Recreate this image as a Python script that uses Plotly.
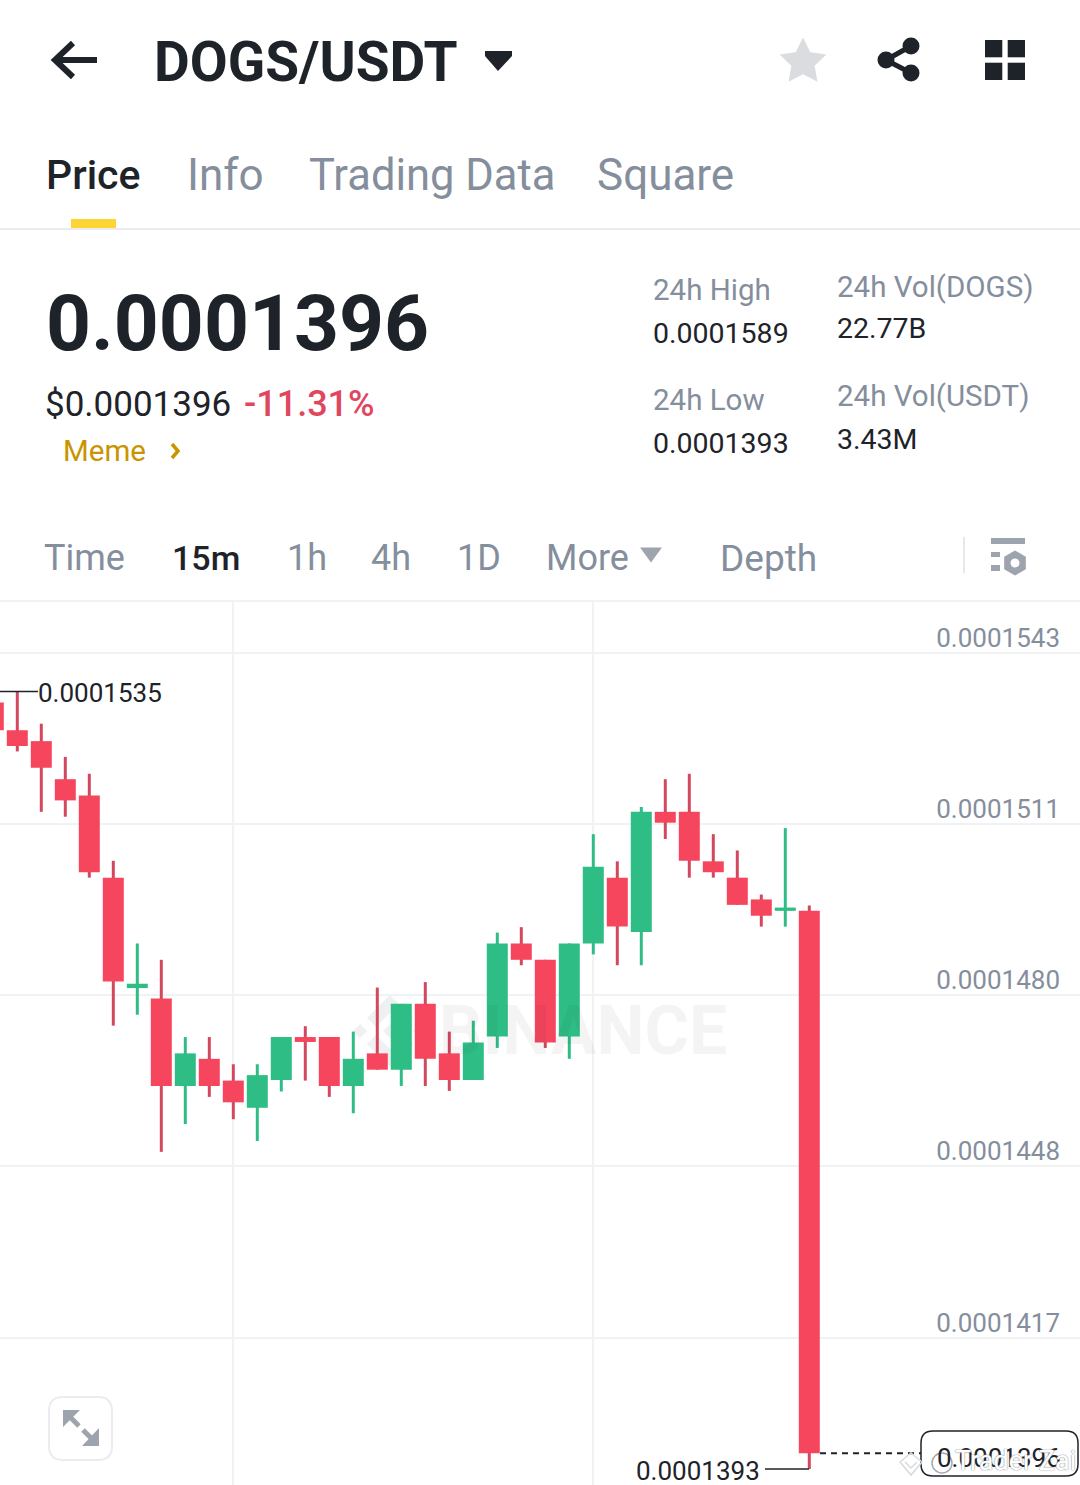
import math

import plotly.graph_objects as go

W, H = 1080, 1485
CHART_TOP = 602

# Prices in units of 0.0000001.
index = list(range(-1, 34))
opens = [1533.9, 1528.8, 1526.8, 1519.8, 1516.8, 1501.7, 1481.4, 1479.5, 1463.4, 1468.4,
         1464.4, 1459.4, 1464.5, 1472.4, 1472.4, 1463.4, 1469.4, 1466.4, 1478.5, 1469.4,
         1464.5, 1472.5, 1489.6, 1486.6, 1472.5, 1489.6, 1501.7, 1491.7, 1513.8, 1513.8,
         1504.7, 1501.7, 1497.7, 1495.6, 1495.6]
closes = [1528.8, 1525.9, 1521.9, 1515.9, 1502.7, 1482.6, 1482.2, 1463.4, 1469.4, 1463.4,
          1460.4, 1465.4, 1472.4, 1471.5, 1463.4, 1468.4, 1466.4, 1478.5, 1468.4, 1464.5,
          1471.4, 1489.6, 1486.6, 1471.4, 1489.6, 1503.7, 1492.7, 1513.8, 1511.8, 1504.8,
          1502.7, 1496.7, 1494.7, 1496.2, 1395.9]
highs = [1535.3, 1535.9, 1530.0, 1523.9, 1520.8, 1504.8, 1489.6, 1486.6, 1472.4, 1472.4,
         1467.4, 1467.4, 1472.4, 1474.4, 1472.4, 1473.4, 1481.5, 1478.5, 1482.5, 1473.4,
         1475.4, 1491.6, 1492.6, 1486.6, 1489.6, 1509.7, 1504.7, 1514.7, 1519.8, 1520.8,
         1509.7, 1506.7, 1498.6, 1510.8, 1496.6]
lows = [1527.9, 1524.9, 1513.8, 1512.9, 1501.7, 1474.5, 1476.5, 1451.3, 1456.4, 1461.4,
        1457.3, 1453.3, 1462.4, 1464.4, 1461.4, 1458.4, 1466.4, 1463.4, 1463.4, 1462.5,
        1464.5, 1470.4, 1485.6, 1470.4, 1468.4, 1487.6, 1485.6, 1485.6, 1508.8, 1501.7,
        1501.7, 1496.7, 1492.7, 1492.7, 1393.0]

tick_prices = [1543.0, 1511.6, 1480.1, 1448.7, 1417.1]
tick_labels = ["0.0001543", "0.0001511", "0.0001480", "0.0001448", "0.0001417"]
grid_candles = [9, 24]

GREEN, RED = "#2ebd85", "#f6465d"
RED_WICK = "#d3485f"
DARK, GREY, ICON = "#1e2329", "#848e9c", "#9ea4ad"
GRID = "#f1f2f3"
FONT = "Roboto"


def px(x):
    return x / W


def py(y):
    return 1 - y / H


def poly(points, close=True):
    d = "M " + " L ".join(f"{px(x):.5f} {py(y):.5f}" for x, y in points)
    return d + (" Z" if close else "")


def rrect(x0, y0, x1, y1, r):
    c = lambda x, y: f"{px(x):.5f} {py(y):.5f}"
    return (f"M {c(x0 + r, y0)} L {c(x1 - r, y0)} Q {c(x1, y0)} {c(x1, y0 + r)} "
            f"L {c(x1, y1 - r)} Q {c(x1, y1)} {c(x1 - r, y1)} L {c(x0 + r, y1)} "
            f"Q {c(x0, y1)} {c(x0, y1 - r)} L {c(x0, y0 + r)} Q {c(x0, y0)} {c(x0 + r, y0)} Z")


up = [c >= o for o, c in zip(opens, closes)]

fig = go.Figure()

# Wicks, then bodies on top.
fig.add_trace(go.Bar(
    x=index, base=[v * 1e-7 for v in lows],
    y=[(h - l) * 1e-7 for h, l in zip(highs, lows)], width=3 / 24,
    marker=dict(color=[GREEN if u else RED_WICK for u in up], line_width=0),
    hoverinfo="skip", showlegend=False))
fig.add_trace(go.Bar(
    x=index, base=[min(o, c) * 1e-7 for o, c in zip(opens, closes)],
    y=[abs(o - c) * 1e-7 for o, c in zip(opens, closes)], width=21 / 24,
    marker=dict(color=[GREEN if u else RED for u in up], line_width=0),
    hoverinfo="skip", showlegend=False))

fig.update_layout(
    width=W, height=H, margin=dict(l=0, r=0, t=0, b=0), barmode="overlay",
    paper_bgcolor="white", plot_bgcolor="white", showlegend=False,
    font=dict(family=FONT, color=DARK),
    xaxis=dict(range=[-17.3 / 24, (W - 17.3) / 24], tickvals=grid_candles, showticklabels=False,
               ticks="", showgrid=True, gridcolor=GRID, gridwidth=2, zeroline=False,
               fixedrange=True),
    yaxis=dict(domain=[0, 1 - CHART_TOP / H], range=[1390.06e-7, 1552.37e-7], side="right",
               tickvals=[v * 1e-7 for v in tick_prices], ticktext=tick_labels, ticks="",
               ticklabelposition="inside", ticklabelstandoff=17, ticklabelshift=-15,
               tickfont=dict(size=26, color=GREY, family=FONT), showgrid=True, gridcolor=GRID,
               gridwidth=2, zeroline=False, fixedrange=True),
)

# Text around the chart: x (left edge), y (middle), text, size, colour, weight.
labels = [
    (153, 62, "DOGS/USDT", 55, DARK, 700),
    (45, 175, "Price", 41, DARK, 500),
    (186, 175, "Info", 44, GREY, 400),
    (308, 175, "Trading Data", 43.5, GREY, 400),
    (596, 175, "Square", 44, GREY, 400),
    (45, 323, "0.0001396", 78.5, DARK, 700),
    (44, 404, "$0.0001396", 35, DARK, 400),
    (243, 404, "-11.31%", 36, "#e0475e", 500),
    (62, 451, "Meme", 29.5, "#c99400", 400),
    (652, 290, "24h High", 29.5, GREY, 400),
    (652, 333, "0.0001589", 28.5, DARK, 400),
    (652, 400, "24h Low", 29.5, GREY, 400),
    (652, 443, "0.0001393", 28.5, DARK, 400),
    (836, 287, "24h Vol(DOGS)", 29.5, GREY, 400),
    (836, 329, "22.77B", 28.5, DARK, 400),
    (836, 396, "24h Vol(USDT)", 29.5, GREY, 400),
    (836, 439, "3.43M", 28.5, DARK, 400),
    (43, 558, "Time", 36, GREY, 400),
    (171, 558, "15m", 34, DARK, 500),
    (286, 558, "1h", 36, GREY, 400),
    (370, 558, "4h", 36, GREY, 400),
    (456, 558, "1D", 36, GREY, 400),
    (545, 558, "More", 36, GREY, 400),
    (719, 558, "Depth", 37, GREY, 400),
    (37, 693, "0.0001535", 26, DARK, 400),
    (635, 1471, "0.0001393", 26, DARK, 400),
    (937, 1496, "0.0001385", 26, GREY, 400),
    (936, 1458, "0.0001396", 26, DARK, 400),
    (438, 1031, "BINANCE", 68, "rgba(30,35,41,0.05)", 700),
]
for x, y, text, size, color, weight in labels:
    fig.add_annotation(x=px(x), y=py(y), xref="paper", yref="paper", text=text, showarrow=False,
                       xanchor="left", yanchor="middle", borderpad=0,
                       font=dict(size=size, color=color, weight=weight, family=FONT))

# Reposter's watermark, white letters with a faint outline across the price box.
fig.add_annotation(x=px(954), y=py(1461), xref="paper", yref="paper", text="Trader Zai",
                   showarrow=False, xanchor="left", yanchor="middle", borderpad=0,
                   font=dict(size=27, color="white", family=FONT,
                             shadow="0 0 1.5px #8f959c, 0 0 1px #8f959c"))


def shape(**kw):
    kw.setdefault("xref", "paper")
    kw.setdefault("yref", "paper")
    fig.add_shape(**kw)


def line(x0, y0, x1, y1, color, width, **kw):
    shape(type="line", x0=px(x0), y0=py(y0), x1=px(x1), y1=py(y1),
          line=dict(color=color, width=width), **kw)


def rect(x0, y0, x1, y1, color):
    shape(type="rect", x0=px(x0), y0=py(y0), x1=px(x1), y1=py(y1), fillcolor=color, line_width=0)


def fill(d, color, edge=0):
    shape(type="path", path=d, fillcolor=color, line=dict(color=color, width=edge))


def stroke(d, color, width):
    shape(type="path", path=d, line=dict(color=color, width=width))


def circle(cx, cy, r, color):
    shape(type="circle", x0=px(cx - r), x1=px(cx + r), y0=py(cy - r), y1=py(cy + r),
          fillcolor=color, line_width=0)


# Back arrow, dropdown.
line(58, 60, 97, 60, DARK, 6)
stroke(poly([(73, 43), (55, 60), (73, 77)], close=False), DARK, 6)
fill(poly([(485, 51), (512, 51), (512, 56), (498, 71), (485, 56)]), DARK)

# Star.
star = []
for i in range(10):
    r = 20 if i % 2 == 0 else 10
    a = math.radians(-90 + 36 * i)
    star.append((803 + r * math.cos(a), 62 + r * math.sin(a)))
fill(poly(star), "#dadce0", 4)

# Share.
line(886, 60, 911, 46, DARK, 5)
line(886, 60, 911, 73, DARK, 5)
circle(886, 60, 8.5, DARK)
circle(911, 46, 8.5, DARK)
circle(911, 73, 8.5, DARK)

# Grid icon.
for x0, x1 in [(985, 1002.3), (1007.7, 1025)]:
    for y0, y1 in [(40, 57.3), (62.7, 80)]:
        rect(x0, y0, x1, y1, DARK)

# Tab underline and dividers.
rect(71, 219, 116, 228, "#fcd535")
line(0, 229, W, 229, "#eaecef", 2)
line(0, 601, W, 601, "#f1f2f3", 2)
line(964, 537, 964, 573, "#e6e8ea", 2)

# Meme chevron, More dropdown.
stroke(poly([(172, 444), (178, 451), (172, 458)], close=False), "#c99400", 3.5)
fill(poly([(643, 549), (659, 549), (651, 560)]), ICON, 3)

# Chart settings icon.
rect(991, 538, 1025, 544, ICON)
rect(991, 552, 1000, 557, ICON)
rect(991, 565, 1000, 571, ICON)
hexagon = [(1015 + 12.5 * math.cos(math.radians(30 + 60 * i)),
            563 + 12.5 * math.sin(math.radians(30 + 60 * i))) for i in range(6)]
fill(poly(hexagon), ICON)
circle(1015, 563, 4.5, "white")

# Expand button.
stroke(rrect(49, 1397, 112, 1460, 14), "#eaecef", 2)
fill(poly([(63, 1410), (80, 1410), (63, 1427)]), ICON)
fill(poly([(99, 1446), (82, 1446), (99, 1428)]), ICON)
line(70, 1417, 79, 1426, ICON, 5)
line(83, 1430, 92, 1439, ICON, 5)

# Logo of the watermark, under the candles.
logo = [
    [(360, 1024), (367, 1031), (360, 1038), (353, 1031)],
    [(420, 1024), (427, 1031), (420, 1038), (413, 1031)],
    [(390, 1024), (397, 1031), (390, 1038), (383, 1031)],
    [(390, 995), (413, 1018), (404, 1027), (390, 1013), (376, 1027), (367, 1018)],
    [(390, 1067), (413, 1044), (404, 1035), (390, 1049), (376, 1035), (367, 1044)],
]
for part in logo:
    shape(type="path", path=poly(part), fillcolor="#eff0f1", line_width=0, layer="below")

# High and low leaders, last price line and box.
shape(type="line", xref="paper", yref="y", x0=0, x1=px(38), y0=highs[1] * 1e-7, y1=highs[1] * 1e-7,
      line=dict(color=DARK, width=1.5))
shape(type="line", xref="paper", yref="y", x0=px(765), x1=px(809), y0=lows[-1] * 1e-7,
      y1=lows[-1] * 1e-7, line=dict(color=DARK, width=1.5))
shape(type="line", xref="paper", yref="y", x0=px(820), x1=px(921), y0=closes[-1] * 1e-7,
      y1=closes[-1] * 1e-7, line=dict(color=DARK, width=2, dash="6px,5px"))
stroke(rrect(921, 1431, 1078, 1476, 12), DARK, 1.5)

# Reposter's watermark marks left of its name.
stroke(poly([(900, 1462), (911, 1453), (922, 1462), (911, 1475)]), "#d8dadd", 1.5)
stroke(poly([(905, 1462), (911, 1468), (917, 1462)], close=False), "#d8dadd", 1.5)
shape(type="circle", x0=px(932), x1=px(952), y0=py(1453), y1=py(1473),
      fillcolor="rgba(255,255,255,0.7)", line=dict(color="#a5aab0", width=1.5))

# The browser's default page margin would push the figure off by 8px.
fig.write_html("out.html", config={"displayModeBar": False},
               post_script="document.body.style.margin = '0';")
